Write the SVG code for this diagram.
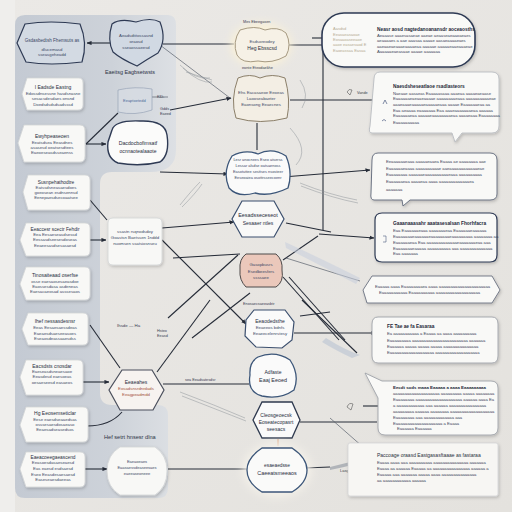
<svg xmlns="http://www.w3.org/2000/svg" width="512" height="512" viewBox="0 0 512 512">
<defs>
<linearGradient id="bg" x1="0" y1="0" x2="1" y2="1"><stop offset="0" stop-color="#ebe9e6"/><stop offset="1" stop-color="#e4e2de"/></linearGradient>
<linearGradient id="panel" x1="0" y1="0" x2="1" y2="0"><stop offset="0" stop-color="#c4cad3"/><stop offset="0.6" stop-color="#cdd2d9"/><stop offset="1" stop-color="#dde0e4"/></linearGradient>
<filter id="sh" x="-20%" y="-20%" width="140%" height="150%"><feDropShadow dx="1" dy="1.5" stdDeviation="1.4" flood-color="#000" flood-opacity="0.2"/></filter>
<filter id="glow" x="-50%" y="-50%" width="200%" height="200%"><feGaussianBlur stdDeviation="5"/></filter>
<marker id="ah" viewBox="0 0 6 6" refX="5.5" refY="3" markerWidth="4.5" markerHeight="4.5" orient="auto"><path d="M0,0.5 L6,3 L0,5.5 Z" fill="#262c38"/></marker>
<style>
.ln{fill:none;stroke:#262c38;stroke-width:1.1}
.lt{fill:none;stroke:#59606c;stroke-width:0.7}
.fth{fill:none;stroke:#8a8f96;stroke-width:0.6;opacity:0.8}
.lnode{fill:#f8f8f6;stroke:#d2d4d6;stroke-width:0.8;filter:url(#sh)}
.dnode{fill:#fbfbfa;stroke:#2e3a54;stroke-width:1.4}
.call{fill:#f9f9f7;stroke:#b9bcc1;stroke-width:0.9;filter:url(#sh)}
.calld{fill:#f9f9f7;stroke:#2e3a54;stroke-width:1.6;filter:url(#sh)}
text{font-family:"Liberation Sans","DejaVu Sans",sans-serif}
.h{font-size:5.6px;fill:#272d3d;font-weight:bold}
.b{font-size:4.3px;fill:#3b4866}
.bc{font-size:4.3px;fill:#3b4866;text-anchor:middle}
.hc{font-size:5.6px;fill:#272d3d;text-anchor:middle}
.rh{font-size:5.2px;fill:#232838;font-weight:bold}
.rb{font-size:4.2px;fill:#3a4458}
.lab{font-size:4.6px;fill:#3a4050}
.fad{font-size:4px;fill:#b5ab92}
.red{font-size:4.3px;fill:#a5523c;text-anchor:middle}
</style>
</defs>
<rect width="512" height="512" fill="url(#bg)"/>
<rect x="0" y="0" width="15" height="512" fill="#efeeec"/>
<path d="M15,25 Q15,15 25,15 L168,15 Q176,15 176,25 L176,150 Q176,172 150,172 L112,172 Q100,172 100,184 L100,393 Q100,405 112,405 L158,405 Q168,405 168,415 L168,488 Q168,498 158,498 L25,498 Q15,498 15,488 Z" fill="url(#panel)"/>

<g id="connectors">
<line class="ln" x1="110" y1="43" x2="87" y2="43" marker-end="url(#ah)"/>
<line class="ln" x1="163" y1="44" x2="234" y2="44"/>
<line class="ln" x1="288" y1="45" x2="322" y2="45"/>
<line class="ln" x1="323" y1="35" x2="323" y2="230"/>
<line class="ln" x1="312" y1="38" x2="330" y2="38"/>
<line class="ln" x1="290" y1="100" x2="375" y2="100"/>
<line class="lt" x1="160" y1="45" x2="230" y2="98"/>
<line class="ln" x1="170" y1="110" x2="231" y2="98" marker-end="url(#ah)"/>
<line class="lt" x1="152" y1="97" x2="168" y2="97"/>
<line class="ln" x1="86" y1="144" x2="106" y2="144" marker-end="url(#ah)"/>
<line class="ln" x1="86" y1="144" x2="118" y2="113"/>
<line class="ln" x1="257" y1="123" x2="257" y2="150"/>
<line class="ln" x1="160" y1="172" x2="228" y2="174" marker-end="url(#ah)"/>
<line class="ln" x1="162" y1="228" x2="234" y2="222" marker-end="url(#ah)"/>
<line class="ln" x1="162" y1="240" x2="246" y2="324" marker-end="url(#ah)"/>
<line class="ln" x1="168" y1="318" x2="238" y2="255"/>
<line class="ln" x1="192" y1="338" x2="250" y2="293"/>
<line class="ln" x1="157" y1="372" x2="210" y2="300"/>
<line class="ln" x1="173" y1="258" x2="240" y2="254"/>
<line class="ln" x1="90" y1="200" x2="107" y2="220"/>
<line class="ln" x1="88" y1="240" x2="106" y2="240" marker-end="url(#ah)"/>
<line class="ln" x1="90" y1="325" x2="120" y2="368"/>
<line class="ln" x1="83" y1="382" x2="109" y2="382" marker-end="url(#ah)"/>
<path class="ln" d="M87,426 Q110,426 122,412"/>
<line class="ln" x1="85" y1="469" x2="107" y2="469" marker-end="url(#ah)"/>
<line class="ln" x1="163" y1="384" x2="249" y2="384"/>
<line class="ln" x1="168" y1="469" x2="247" y2="469"/>
<line class="ln" x1="283" y1="177" x2="370" y2="170" marker-end="url(#ah)"/>
<line class="ln" x1="286" y1="223" x2="331" y2="232"/>
<line class="ln" x1="319" y1="234" x2="374" y2="238" marker-end="url(#ah)"/>
<line class="ln" x1="283" y1="260" x2="318" y2="236"/>
<line class="lt" x1="286" y1="258" x2="360" y2="281"/>
<line class="ln" x1="283" y1="277" x2="339" y2="340"/>
<line class="ln" x1="289" y1="277" x2="345" y2="340"/>
<line class="ln" x1="294" y1="333" x2="376" y2="333" marker-end="url(#ah)"/>
<line class="ln" x1="302" y1="300" x2="357" y2="353"/>
<line class="ln" x1="300" y1="422" x2="377" y2="422"/>
<line class="lt" x1="330" y1="418" x2="363" y2="447"/>
<line class="ln" x1="305" y1="468" x2="330" y2="467"/>
<line class="ln" x1="363" y1="406" x2="384" y2="406"/>
<line class="ln" x1="300" y1="316" x2="330" y2="312"/>
<path class="fth" d="M180,65 Q195,80 210,78 M183,68 Q200,84 212,82 M186,72 L212,80"/>
<path class="fth" d="M180,205 Q192,190 200,182 M182,207 Q196,193 202,184"/>
<path class="fth" d="M180,392 Q215,405 245,418 M182,396 Q218,410 246,421"/>
<path class="fth" d="M300,80 Q310,95 302,108 M290,128 Q310,150 296,165"/>
<path class="fth" d="M300,183 Q330,195 357,200 M301,186 Q332,198 358,203"/>
<path d="M285,242 Q320,258 360,278 L356,284 Q320,265 286,248 Z" fill="#c6cedc" opacity="0.55"/>
<path d="M326,338 Q345,350 360,355 L352,358 Q335,350 322,342 Z" fill="#b9c3d2" opacity="0.6"/>
<path d="M330,467 Q345,463 360,460 L360,463 Q345,467 330,470 Z" fill="#9aa0a8" opacity="0.7"/>
</g>

<g id="n1"><path d="M25,24 Q50,20 80,24 Q88,43 82,62 Q50,66 26,62 L17,43 Z" fill="#d3dae3" stroke="#2e3a54" stroke-width="1.2"/>
<text class="bc" x="52" y="42" style="font-size:4.6px">Gsdasbedtsh Fhemsuts as</text><text class="bc" x="52" y="51">dlucemasd</text><text class="bc" x="52" y="56">sseasgeheadd</text></g>
<g id="n2"><path class="lnode" d="M27,78 L79,78 Q83,78 83,83 L83,105 Q83,110 78,110 L27,110 L22,94 Z"/>
<text class="hc" x="53" y="89" style="font-size:5px">I Eadsde Eastng</text><text class="bc" x="53" y="95">Edossdnsessne hasdsnasne</text><text class="bc" x="53" y="100">sesacsdesdaes onsnd</text><text class="bc" x="53" y="106">Doedsdsdsdsadsssd</text></g>
<g id="n3"><path class="lnode" d="M24,125 L80,125 Q85,125 85,131 L85,156 Q85,162 80,162 L24,162 L18,143 Z"/>
<text class="hc" x="52" y="138" style="font-size:5px">Ewyhpeaseoen</text><text class="bc" x="52" y="144">Eeatsdsea Eeasdnes</text><text class="bc" x="52" y="149">asasesd oeatsesdtees</text><text class="bc" x="52" y="154">Eaeoeseasdsseaenss</text></g>
<g id="n4"><path class="lnode" d="M28,175 L85,175 Q90,175 90,180 L90,205 Q90,210 85,210 L28,210 L23,192 Z"/>
<text class="hc" x="56" y="184" style="font-size:4.8px">Susnpehathodtre</text><text class="bc" x="56" y="189">Eatssdsneasaesdoes</text><text class="bc" x="56" y="194">goeosean esdnsennsd</text><text class="bc" x="56" y="199">Eenepaesdsecoaatsee</text></g>
<g id="n5"><path class="lnode" d="M26,223 L85,223 Q90,223 90,228 L90,251 Q90,256 85,256 L26,256 L20,240 Z"/>
<text class="hc" x="55" y="231" style="font-size:4.8px">Eeaccesr scectr Fehdir</text><text class="bc" x="55" y="236">Eea Eesaeseasdsessd</text><text class="bc" x="55" y="241">Eessasdseesesdoseas</text><text class="bc" x="55" y="247">Eeaeesasdsesasaesd</text></g>
<g id="n6"><path class="lnode" d="M26,267 L85,267 Q90,267 90,272 L90,295 Q90,300 85,300 L26,300 L20,284 Z"/>
<text class="hc" x="55" y="277" style="font-size:5px">Tinosaiteaad oserfse</text><text class="bc" x="55" y="283">osse eaesaosesaeasdoe</text><text class="bc" x="55" y="288">Eaossesdasa asdeneas</text><text class="bc" x="55" y="293">Eaesacaeosad asssesaos</text></g>
<g id="n7"><path class="lnode" d="M28,313 L83,313 Q88,313 88,318 L88,340 Q88,345 83,345 L28,345 L22,329 Z"/>
<text class="hc" x="55" y="323" style="font-size:5px">Ihef nessasdesnsr</text><text class="bc" x="55" y="329">Eeas Eesaesaessdeas</text><text class="bc" x="55" y="335">Eaeaesdsaeseeasoes</text><text class="bc" x="55" y="340">Eseaosdeassaaesdss</text></g>
<g id="n8"><path class="lnode" d="M26,360 L78,360 Q83,360 83,365 L83,390 Q83,395 78,395 L26,395 L20,377 Z"/>
<text class="hc" x="52" y="368" style="font-size:5px">Eacsdsts cnosdar</text><text class="bc" x="52" y="373">Eaeseasdsneaesaoe</text><text class="bc" x="52" y="378">Eeasdesd eaesoeas</text><text class="bc" x="52" y="384">oesaeseesd easaeos</text></g>
<g id="n9"><path class="lnode" d="M26,407 L83,407 Q88,407 88,412 L88,437 Q88,442 83,442 L26,442 L20,425 Z"/>
<text class="hc" x="55" y="415" style="font-size:5px">Hg Eeosemseticlar</text><text class="bc" x="55" y="421">Eese eaesdseaaedsas</text><text class="bc" x="55" y="426">osssesaesdosaeaso</text><text class="bc" x="55" y="431">Eeaesadseasedsos</text></g>
<g id="n10"><path class="lnode" d="M26,452 L80,452 Q85,452 85,457 L85,482 Q85,487 80,487 L26,487 L20,469 Z"/>
<text class="hc" x="53" y="459" style="font-size:4.8px">Eaeacoeegaeascend</text><text class="bc" x="53" y="464">Eeasoesdasaeseaesd</text><text class="bc" x="53" y="470">Eas eaesd esdsaesd</text><text class="bc" x="53" y="476">Eseo Eeasdesaesaesd</text><text class="bc" x="53" y="481">Easeseaesdaeeas</text></g>

<g id="m1"><path d="M112,24 Q120,18 136,22 Q151,17 160,22 Q167,40 158,53 Q146,60 137,66 Q121,59 113,52 Q107,40 112,24 Z" fill="#d1d9e3" stroke="#2e3a54" stroke-width="1.2"/>
<text class="bc" x="136" y="37">Aeadsdtitossasnd</text><text class="bc" x="136" y="43">oraosd</text><text class="bc" x="136" y="49">sseaossaeesd</text></g>
<text class="lab" x="105" y="74" style="font-size:5.4px;fill:#2d3344">Eaeitsg Eagbsetwsts</text>
<g id="m2"><path d="M118,90 Q135,86 152,89 L152,110 Q135,116 118,112 Z" fill="#d7dce3" stroke="#8e9bb0" stroke-width="0.7" opacity="0.85"/>
<text class="b" x="123" y="102" style="fill:#4a6a9a;font-size:4px">Eeaptoetedd</text></g>
<text class="lab" x="157" y="98" style="font-size:4.4px">KD-</text>
<text class="lab" x="160" y="110" style="font-size:3.8px">Gdds</text><text class="lab" x="160" y="115" style="font-size:3.8px">Eaeed</text>
<g id="m3"><path d="M112,130 Q115,120 140,121 Q165,120 167,135 Q170,155 160,162 Q140,167 118,163 Q106,158 108,142 Z" class="dnode"/>
<text class="hc" x="138" y="145" style="font-size:5.2px">Dacdocbofimsatf</text><text class="hc" x="138" y="153" style="font-size:5px">ocnnaotealaaote</text></g>
<g id="m4"><path class="lnode" d="M113,218 L157,218 Q162,218 162,223 L162,260 Q162,265 157,265 L113,265 Q108,265 108,260 L108,223 Q108,218 113,218 Z"/>
<text class="bc" x="135" y="233">ssastn rsqnodsdoy</text><text class="bc" x="135" y="239">Goastsn Baetssen 1nddd</text><text class="bc" x="135" y="245">nuomsen ssatsiosnseu</text></g>
<text class="lab" x="117" y="327" style="font-size:4.4px">Ihsde — Ha</text>
<text class="lab" x="157" y="332" style="font-size:3.8px">Hsteo</text><text class="lab" x="157" y="337" style="font-size:3.8px">Eeasd</text>
<g id="m5"><path d="M122,370 L152,370 L164,390 L153,410 L120,410 L109,390 Z" fill="#f7f3f0" stroke="#4a4f5c" stroke-width="1.2"/>
<text class="hc" x="136" y="384" style="font-size:5px">Eeaeahes</text><text class="red" x="136" y="390">Eosadsnsrdnrdads</text><text class="red" x="136" y="396">Eeagpeadmdd</text></g>
<text class="lab" x="185" y="381" style="font-size:3.8px">sea Eeadsatesdsr</text>
<text class="lab" x="104" y="439" style="font-size:5.6px;fill:#2d3344">Hef setrt hnsesr dlna</text>
<g id="m6"><path class="lnode" d="M120,447 L155,447 Q167,455 167,471 Q167,487 155,495 L120,495 Q107,487 107,471 Q107,455 120,447 Z"/>
<text class="bc" x="137" y="463" style="font-size:4px">Eaeaoeaes</text><text class="bc" x="137" y="469" style="font-size:4px">Eaasaessdeaseesaes</text><text class="bc" x="137" y="475" style="font-size:4px">eaeeaseoneee</text></g>

<g id="c1"><ellipse cx="261" cy="45" rx="30" ry="22" fill="#fbf2d8" filter="url(#glow)"/>
<path d="M240,30 Q255,25 265,30 Q278,26 286,33 Q292,45 286,56 Q272,64 258,61 Q242,64 237,55 Q232,42 240,30 Z" fill="#f6f1e6" stroke="#a69a82" stroke-width="1"/>
<text class="bc" x="262" y="43">Esdsoreodey</text><text class="hc" x="262" y="50" style="font-size:5px">Heg Ebsscsd</text></g>
<text class="lab" x="243" y="23" style="font-size:3.8px">Mes Ebeegasen</text>
<text class="lab" x="242" y="69" style="font-size:3.8px">eonte Eteodaekhe</text>
<g id="c2"><path d="M238,78 Q250,73 260,78 Q272,73 285,78 Q291,100 287,118 Q260,125 236,118 Q230,100 238,78 Z" fill="#f3eee4" stroke="#8b7f69" stroke-width="1"/>
<text class="bc" x="261" y="94">Ehs Eacasaeoe Eeoeas</text><text class="bc" x="261" y="100">Laooseabaeter</text><text class="bc" x="261" y="106">Eaonsong Eeaecnes</text></g>
<g id="c3"><path d="M232,156 Q245,149 258,154 Q272,147 286,156 Q293,172 288,188 Q270,197 255,193 Q238,198 229,188 Q222,172 232,156 Z" fill="#fafafa" stroke="#3c5679" stroke-width="1.3"/>
<text class="bc" x="258" y="161" style="font-size:3.9px">Lesr anocnees Eseo atserss</text><text class="bc" x="258" y="167" style="font-size:3.9px">Lessar alsdse oatsaenoss</text><text class="bc" x="258" y="173" style="font-size:3.9px">Easotuttee sesttses nsosteer</text><text class="bc" x="258" y="179" style="font-size:3.9px">Eeseoaiea osottrsseecoenr</text></g>
<g id="c4"><path d="M242,201 L274,201 L284,219 L274,237 L242,237 L232,219 Z" fill="#f9f9f8" stroke="#3b4f6e" stroke-width="1.2"/>
<text class="hc" x="258" y="217" style="font-size:5.4px">Eesadsseceseot</text><text class="hc" x="258" y="225" style="font-size:5px">Sesaaer ntles</text></g>
<g id="c5"><path d="M246,254 L276,254 Q283,260 282,270 Q284,282 276,287 L246,287 Q239,280 240,270 Q239,259 246,254 Z" fill="#ebc8bb" stroke="#4d4a4a" stroke-width="1"/>
<text class="bc" x="261" y="266">Gasopbusrs</text><text class="bc" x="261" y="273">Esedbeesfers</text><text class="bc" x="261" y="279">ssssaee</text></g>
<text class="lab" x="243" y="305" style="font-size:3.8px">Enosaecsaeeasbtr</text>
<g id="c6"><path d="M254,310 L285,310 L294,322 L292,340 L282,348 L256,347 L245,336 L246,320 Z" fill="#fafafa" stroke="#3b4f6e" stroke-width="1.2"/>
<text class="hc" x="270" y="323" style="font-size:5px">Eeaodedsthe</text><text class="bc" x="270" y="329">Eeaeeos bdnfs</text><text class="bc" x="270" y="335">Eeaeecelenrstesy</text></g>
<g id="c7"><path d="M258,357 Q275,350 290,360 Q300,375 294,390 Q280,400 262,396 Q247,392 250,375 Q249,362 258,357 Z" fill="#fafafa" stroke="#3c5679" stroke-width="1.3"/>
<text class="hc" x="273" y="374" style="font-size:5px">Adfaste</text><text class="hc" x="273" y="382" style="font-size:5.4px">Eaaj Eeoed</text></g>
<g id="c8"><path d="M262,402 L292,402 L300,420 L292,438 L262,438 L253,420 Z" fill="#fafafa" stroke="#2f3a4f" stroke-width="1.3"/>
<text class="hc" x="276" y="417" style="font-size:5px">Cleosgeoecsk</text><text class="hc" x="276" y="424" style="font-size:5px">Eoseatecopasrt</text><text class="hc" x="276" y="431" style="font-size:5px">seesacs</text></g>
<line x1="278" y1="439" x2="278" y2="446" stroke="#d88a5a" stroke-width="0.8"/>
<g id="c9"><ellipse cx="277" cy="470" rx="34" ry="27" fill="#f5f2ea" filter="url(#glow)"/>
<path d="M262,448 L292,448 Q307,458 307,470 Q307,483 292,492 L262,492 Q247,483 247,470 Q247,458 262,448 Z" fill="#fafaf9" stroke="#3c5679" stroke-width="1.3"/>
<text class="hc" x="277" y="467" style="font-size:4.8px">esaeaedsse</text><text class="hc" x="277" y="475" style="font-size:5.4px">Caeeatsmeeaos</text></g>
<text class="lab" x="340" y="472" style="font-size:4px">Lasg Do</text>

<g id="r1"><rect x="322" y="13" width="153" height="54" rx="22" class="calld"/>
<text class="fad" x="333" y="30">Aasdsd</text><text class="fad" x="333" y="36">Eeasaeasaoae</text><text class="fad" x="333" y="41">Eosaaoaseeaoe</text><text class="fad" x="333" y="46">aaoe easaesaod E</text><text class="fad" x="333" y="52">Eaoeassaa Easaa</text>
<text class="rh" x="377" y="31" style="font-size:4.8px">Neasr aosd nagtedanoanansdr aoceaosths</text>
<text class="rb" x="377" y="37">Aeaaase aaaesasaeae aaeae aeaaseaeaaoaeaes</text><text class="rb" x="377" y="42">aeaaaaes a aae aaasaa aaaae aasaeaaaaeaes</text><text class="rb" x="377" y="48">aaeaaeaeaaaeaaaaeaa aaaaae aaaaaeaaeaaaeae</text><text class="rb" x="377" y="53">Aaaaaaeaeasaae aaaae aaaaaaa</text></g>
<g id="r2"><path d="M380,72 L492,72 Q499,72 499,79 L499,126 Q499,133 492,133 L462,133 L455,142 L452,133 L372,133 Q368,133 370,126 L374,79 Q374,72 380,72 Z" class="call"/>
<text class="rh" x="393" y="88" style="font-size:4.8px">Naesdsheseatlaoe rsadlasteors</text>
<text class="rb" x="393" y="95">Naeaae aasaeas Eaaaaasaaa aaaeaa aaaaeaeaase</text><text class="rb" x="393" y="100">Eaaaaaaeaeaaeaaaae aaaaaaaaeaaa aaaaaaaaaaeae</text><text class="rb" x="393" y="106">aaaeaaaeaaaaaeaaaaaeaaa aaaae Eaaaaaaeaa aa</text><text class="rb" x="393" y="112">Eaa aeaaaa eaaaaaaa Eaa aaaeaaaaaaaeaa aaaaaa</text><text class="rb" x="393" y="117">Eaaaaaaeaa aaaaaeaaaaaaaaeaa aaaaeaaa Eaaaaaaaa</text><text class="rb" x="393" y="124">Eaaaaaaaaaa</text>
<path d="M383,104 L385,100 L387,104 M382,121 Q384,118 386,121" fill="none" stroke="#4a5a80" stroke-width="0.7"/></g>
<path d="M347,92 Q349,88 352,90 L350,95 Z" fill="none" stroke="#555" stroke-width="0.6"/>
<text class="lab" x="357" y="94" style="font-size:3.8px">Vande</text>
<g id="r3"><path d="M378,153 L490,153 Q497,153 497,160 L497,194 Q497,200 490,200 L410,200 L403,206 L402,200 L374,200 Q370,200 371,193 L372,160 Q372,153 378,153 Z" class="call" style="stroke:#5d6678"/>
<text class="rb" x="386" y="163">Eeaaaaaaeaaa aaaaaeaaea Eaaaa ae aaaaaaaa aae</text><text class="rb" x="386" y="170">Eaaaaaaeaaaa aaaaaaaaaae aaeaaaaaaaaaaaaeae</text><text class="rb" x="386" y="176">Eaaaaaaaa aaaaaaeaaaaaaaaaaeaaa aaaaaaaaaa</text><text class="rb" x="386" y="183">Eaaaaaaeaa aaaaeaa aaaa aaaaaaaaaaaaaea</text><text class="rb" x="386" y="191">aaaaaaa</text></g>
<g id="r4"><path d="M382,213 L490,213 Q497,213 497,220 L497,255 Q497,262 490,262 L382,262 Q375,262 375,255 L375,220 Q375,213 382,213 Z" class="calld" style="stroke-width:1.2"/>
<text class="rh" x="393" y="225" style="font-size:4.8px">Gaaanaaasahr aaatasesalsan Fhorhfacra</text>
<text class="rb" x="393" y="232">Eaa Eaaaaaaeaaa aaaaaaaeaa Eaaaaaaeaaaaaa</text><text class="rb" x="393" y="238">Eaaaaaaaeaaaaaaeaaaaaaaaeaaaaaaaaa aaaaaaaa aa</text><text class="rb" x="393" y="244">Eaaaaaaeaa Eaa aaaaaaaaaaaaaeaaaaaaaeaa aaa</text><text class="rb" x="393" y="250">Eaaaaaaaeaaaaa aaaaaaaaaa aaa aaaaaaaaaaaaaa</text><text class="rb" x="393" y="255">Eaa aaaaaaa</text>
<path d="M383,236 L386,236 L386,242 L383,242" fill="none" stroke="#4a5a80" stroke-width="0.6"/></g>
<g id="r5"><path d="M372,276 L492,276 L500,290 L492,303 L367,303 L363,290 Z" class="call" style="stroke:#6a7080"/>
<text class="rb" x="375" y="288">Eaaaaa aaaa Eaaaaaaaaea aaaa aaaaaaaaaaaaaaaaaaaaaa</text><text class="rb" x="379" y="294">Eaaaaaaaaaaa Eaaaaaaaaaa aaaaaaaaaaaaaaaaaaa</text></g>
<g id="r6"><path d="M378,317 L492,317 Q498,317 498,324 L498,356 Q498,363 492,363 L378,363 Q372,363 372,356 L372,324 Q372,317 378,317 Z" class="call" style="stroke:#9ea2a8"/>
<text class="rh" x="387" y="328" style="font-size:4.8px">FE Tae ae fa Easaraa</text>
<text class="rb" x="387" y="335">Ea aaaaaaaaaaa a Eaaaa aa aaaa aaaaaaaaaa</text><text class="rb" x="387" y="342">Eaaaaaaaaa aaaaaaaaaaaaaaaaaaaaaaaa aaaaaaa</text><text class="rb" x="387" y="348">Eaaaaaa aaaaa aaaaa aaaaa aaaaaaaaaaaaaaa</text><text class="rb" x="387" y="354">Eaaaaaaaaaaaaaaaaaaa aaaaaaaaaaaaaaaaaaa</text></g>
<g id="r7"><path d="M365,373 L382,381 L491,381 Q498,381 498,388 L498,428 Q498,435 491,435 L385,435 Q378,435 378,428 L378,398 Z" class="call" style="stroke:#9ea2a8"/>
<text class="rh" x="393" y="389" style="font-size:4.4px">Eecdt sods maaa  Eaaaaa a aaaa Eaaaaaaaaa</text>
<text class="rb" x="393" y="395">aaaaaaaaaaaaaaaaaaaa aaaaaaaaa aaaaa aaaaaaaa</text><text class="rb" x="393" y="401">Eaaaaaaaa aaaaaaaaaaaaaaaaaaaa aaaaaa aaaa Ea</text><text class="rb" x="393" y="407">a aaaaaaaaaaaa aaa aaaaaa  aaaaaaaaaaaaaaaa</text><text class="rb" x="393" y="413">aaaaaaaaa aaaaaa aaaaaaaa aaaaaaaaaaaaaaaaaaa</text><text class="rb" x="393" y="419">Eaaaaaaaa aaa aaaaaaaaaaaaa aaa</text><text class="rb" x="393" y="425">Eaaaaaaaaaaaaaaaaaaaa a Eaaaa</text><text class="rb" x="397" y="430">Eaaaaaa Eaaaaaa</text></g>
<path d="M347,407 Q349,402 353,404 L351,410 Z" fill="none" stroke="#555" stroke-width="0.6"/>
<g id="r8"><rect x="348" y="443" width="150" height="53" rx="2" fill="#f7f6f3" stroke="#cfd0d2" stroke-width="0.7" filter="url(#sh)"/>
<text class="rb" x="377" y="457" style="font-size:5px;fill:#2a3040">Paccoage oraasd Eastgasasftaaae as fastaraa</text>
<text class="rb" x="377" y="464">Eaaaa aaaa aaa aaaaaaaaaa aaaaaaaaaaaaaaa aaaaaaa</text><text class="rb" x="377" y="470">Eaaaa aa aaaaaa  Eaaaaa aa aaaaaaaaaaaaaaaa aaaaaa a</text><text class="rb" x="377" y="476">Eaaaaa aaa aaaaaaa aaaaa aaaa aaaaaaaaaaaaaaa</text><text class="rb" x="377" y="482">aa aaaaaaaaaaaa aaaaaa</text></g>
</svg>
